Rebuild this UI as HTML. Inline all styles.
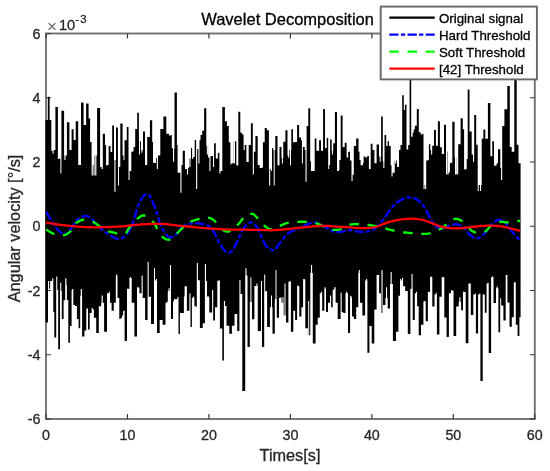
<!DOCTYPE html><html><head><meta charset="utf-8"><style>html,body{margin:0;padding:0;background:#fff;overflow:hidden}svg{display:block;filter:blur(0.4px)}</style></head><body><svg width="550" height="471" viewBox="0 0 550 471">
<rect width="550" height="471" fill="#fff"/>
<rect x="46.0" y="33.5" width="488.79999999999995" height="385.5" fill="none" stroke="#727272" stroke-width="1.9"/>
<path d="M46.00,419.00v-5M46.00,33.50v5M127.47,419.00v-5M127.47,33.50v5M208.93,419.00v-5M208.93,33.50v5M290.40,419.00v-5M290.40,33.50v5M371.87,419.00v-5M371.87,33.50v5M453.33,419.00v-5M453.33,33.50v5M534.80,419.00v-5M534.80,33.50v5M46.00,419.00h5M534.80,419.00h-5M46.00,354.75h5M534.80,354.75h-5M46.00,290.50h5M534.80,290.50h-5M46.00,226.25h5M534.80,226.25h-5M46.00,162.00h5M534.80,162.00h-5M46.00,97.75h5M534.80,97.75h-5M46.00,33.50h5M534.80,33.50h-5" stroke="#3a3a3a" stroke-width="1.2" fill="none"/>
<path d="M45.4,120.0V120.0H47.8V96.8H49.6V120.0H51.3V150.8H52.6V153.6H53.7V150.0H55.4V107.0H57.9V159.0H59.1V158.5H60.4V173.6H61.4V110.8H64.1V155.6H64.4V160.0H65.5V155.6H66.9V122.2H69.4V150.0H71.6V129.3H73.6V140.0H75.7V121.3H78.2V165.0H81.0V102.6H83.6V125.0H86.1V103.5H88.6V118.4H90.1V142.0H91.6V175.5H92.8V165.0H93.5V175.5H94.6V155.6H95.2V175.5H96.4V155.6H97.1V107.9H100.1V167.0H101.6V169.0H102.8V133.7H105.0V145.0H106.1V165.5H107.3V165.0H108.6V146.0H110.5V152.0H112.2V125.5H114.0V160.0H114.4V191.8H115.5V160.0H116.0V127.4H117.9V167.0H118.0V185.5H119.0V167.0H120.3V123.5H122.6V155.6H123.5V160.0H124.5V140.3H126.8V127.0H128.5V180.0H129.6V171.0H131.3V151.8H133.1V151.0H133.6V147.0H135.2V129.0H137.2V112.7H138.9V141.3H139.0V154.5H140.0V141.3H140.9V150.0H141.3V152.7H142.4V150.0H143.0V131.4H145.0V165.0H147.2V137.0H149.9V120.3H152.2V142.0H153.0V162.7H154.0V163.0H156.0V158.0H156.8V169.0H157.9V158.0H158.0V155.6H160.3V129.0H163.4V116.5H166.3V133.7H168.9V135.6H170.7V135.0H171.8V148.0H172.8V149.0H173.0V161.8H174.1V149.0H174.5V92.6H176.9V145.0H177.6V172.7H178.5V172.8H180.4V192.7H181.5V165.0H182.7V150.8H184.9V167.0H185.0V169.0H187.0V174.5H188.1V168.0H189.0V158.5H189.4V167.0H190.5V158.5H191.0V148.0H192.1V159.0H193.2V157.0H194.7V140.0H196.1V189.0H197.2V149.0H198.4V163.6H199.5V140.3H200.5V135.0H202.2V130.8H204.1V108.3H206.3V146.0H206.8V154.5H207.9V146.0H208.1V157.5H209.4V171.0H210.5V156.0H213.0V167.0H214.1V143.2H215.8V158.5H217.8V152.7H219.4V173.6H220.5V170.9H222.3V107.0H224.9V121.3H226.9V126.0H228.8V142.3H230.4V164.5H231.4V163.2H233.7V141.3H233.9V163.6H235.0V141.3H236.3V165.2H236.4V165.5H237.9V165.2H238.3V111.7H240.3V132.7H242.1V134.6H243.6V150.0H244.7V145.1H246.4V162.0H248.7V145.0H250.9V123.2H252.8V174.5H253.9V151.8H255.4V136.1H257.7V165.0H259.7V168.0H262.4V167.3H262.9V142.3H264.7V128.0H266.8V130.2H268.9V169.0H269.1V185.5H270.2V169.0H271.0V171.0H272.0V148.0H273.1V150.0H273.7V185.5H274.7V150.0H275.3V136.1H277.5V165.0H278.2V165.5H279.2V165.0H279.5V147.0H281.5V158.0H281.9V163.6H282.9V158.0H283.3V141.7H285.4V130.2H287.5V155.6H288.2V158.0H289.2V155.6H289.4V150.0H290.0V165.5H291.0V150.0H291.3V129.3H293.0V142.3H294.9V142.0H297.1V125.0H299.1V137.5H301.0V140.3H301.9V163.6H302.9V147.0H304.7V150.0H305.5V181.8H306.6V126.0H308.3V108.3H310.2V161.3H311.0V171.0H312.1V170.9H313.7V171.0H314.7V138.4H316.4V151.0H317.4V150.8H319.1V140.3H321.0V150.8H323.1V108.9H325.0V148.0H326.7V138.0H328.2V169.0H329.2V165.0H330.1V139.4H331.7V150.8H331.9V154.5H332.9V150.8H333.2V143.2H334.9V112.1H337.0V170.9H339.0V170.0H339.4V160.0H340.7V115.5H342.6V147.0H344.7V142.8H346.6V157.5H348.2V151.8H350.0V160.4H351.5V181.0H352.6V174.7H353.8V146.0H356.1V138.4H358.5V151.8H359.5V160.0H360.6V165.2H363.0V163.0H363.6V156.6H365.3V157.5H367.2V156.0H368.9V169.0H370.7V143.8H372.5V149.9H374.4V163.2H376.6V144.5H379.0V156.6H379.7V161.8H380.7V156.6H381.1V116.5H382.8V161.3H383.3V168.0H384.4V161.3H384.5V135.0H386.2V146.0H387.6V141.3H389.0V146.0H390.7V165.2H391.5V176.4H392.6V172.8H394.7V160.4H395.1V163.6H396.2V160.4H397.0V167.0H399.0V150.0H400.5V145.0H402.2V95.3H403.8V110.0H404.9V104.8H406.5V149.4H408.2V145.0H409.6V70.0H411.2V136.8H412.7V132.5H413.7V129.3H414.9V125.8H416.8V109.0H418.8V132.3H420.6V134.5H422.3V133.8H423.5V189.0H424.6V185.0H425.1V189.0H426.2V160.6H428.2V160.0H428.9V144.2H430.3V150.1H431.1V154.5H432.2V145.7H434.0V130.0H435.9V145.7H437.9V121.2H439.9V147.2H441.8V153.9H444.0V124.7H446.0V174.5H447.1V151.6H447.5V174.5H448.6V172.5H449.9V163.6H450.4V162.8H452.3V121.8H454.6V157.6H455.0V174.5H456.1V157.6H456.3V174.0H456.5V174.5H457.6V174.0H458.2V144.2H460.6V118.3H462.8V129.3H464.1V169.0H464.4V169.5H466.0V169.0H466.7V159.0H467.7V89.6H469.5V131.6H471.7V154.6H473.0V161.8H474.1V154.6H474.2V115.0H476.2V144.7H477.7V191.0H478.7V185.0H480.0V191.0H481.1V185.0H481.7V138.8H483.4V129.5H485.3V138.8H487.9V103.1H490.4V156.3H492.3V141.2H494.0V165.7H495.7V165.5H496.7V163.3H498.0V149.3H500.3V168.0H501.1V180.0H502.2V126.0H504.4V109.2H507.3V85.9H509.8V147.0H511.7V151.7H514.3V79.8H516.7V144.7H518.5V163.3H520.6V317.2H519.4V335.9H517.6V324.7H515.8V283.0H515.6V282.3H513.8V317.2H511.8V326.8H509.5V302.4H507.4V275.0H505.7V320.4H503.4V305.4H501.2V298.2H500.2V332.2H498.4V288.3H497.7V286.4H496.6V288.3H496.0V302.9H493.5V277.3H493.1V276.4H492.0V277.3H491.1V352.9H488.7V283.4H488.6V282.7H487.5V283.4H486.6V312.7H484.8V294.4H482.7V381.0H480.4V293.6H479.3V294.4H478.1V333.4H475.9V293.6H474.8V294.4H473.3V315.1H470.8V283.4H468.4V343.2H465.7V292.0H464.1V291.8H463.0V310.2H461.1V301.7H460.4V297.3H459.3V301.7H458.7V306.6H456.2V335.9H453.5V290.7H452.2V290.0H451.1V293.2H448.9V337.0H446.6V317.6H444.3V277.3H442.7V277.0H441.7V296.8H439.4V334.6H436.9V294.4H436.7V292.7H435.7V294.4H434.5V306.6H432.3V277.3H432.2V277.0H431.6V276.4H430.5V277.3H430.1V292.0H429.6V291.8H428.5V292.0H427.9V321.3H425.7V301.5H425.2V301.0H424.2V301.5H423.4V324.8H421.0V335.3H418.7V306.2H417.1V291.8H416.0V293.3H414.8V320.1H412.7V288.7H412.6V274.0H411.5V288.7H410.4V334.1H407.8V291.0H405.2V286.3H403.1V278.0H402.0V280.5H401.1V279.0H400.0V295.7H398.4V331.8H396.0V341.1H392.9V284.0H391.7V272.0H390.6V284.0H390.0V308.5H387.7V298.0H387.1V287.3H386.0V298.0H385.4V305.0H383.0V313.1H382.6V270.0H381.5V313.1H381.0V293.3H379.1V275.0H376.6V309.6H374.3V343.5H371.7V326.0H369.4V352.8H367.4V280.5H367.1V279.0H366.0V280.5H365.1V315.5H362.4V302.7H360.0V273.0H359.9V270.0H358.8V273.0H358.3V307.3H356.2V319.0H353.9V316.6H352.0V298.0H351.7V296.4H351.1V295.7H350.1V333.0H348.0V293.3H347.1V291.8H346.0V293.3H345.5V313.1H343.2V312.0H341.7V292.7H340.6V319.0H337.7V302.7H335.6V287.3H334.2V289.8H332.7V307.3H331.1V295.5H330.0V302.7H328.0V312.0H326.0V288.7H325.6V287.3H324.5V288.7H324.3V310.8H322.2V293.3H322.1V291.8H321.0V293.3H319.8V317.8H317.7V324.8H315.6V343.5H312.8V273.0H312.1V265.0H311.0V273.0H310.3V335.3H309.2V301.0H308.2V335.3H307.9V328.3H305.3V279.3H304.2V279.0H303.1V307.3H301.4V316.6H299.3V286.3H298.4V285.5H297.3V286.3H297.1V320.1H295.1V310.8H293.3V331.8H290.9V281.7H290.5V281.0H289.5V281.7H288.4V322.5H286.0V315.5H285.5V283.6H284.5V315.5H283.7V302.7H283.5V297.3H282.5V302.7H281.5V297.3H280.5V298.0H279.0V317.8H276.8V299.2H276.5V270.0H275.5V299.2H274.8V333.8H272.5V307.2H272.0V295.5H271.0V307.2H269.9V327.1H267.1V291.3H265.2V274.5H264.2V347.1H262.0V281.0H261.0V331.1H257.8V286.0H257.4V283.6H256.4V286.0H254.4V319.2H252.0V301.9H251.4V277.3H250.4V301.9H249.8V347.1H247.5V275.5H246.5V268.2H245.4V276.0H245.2V391.0H242.3V293.9H240.5V280.0H239.4V331.1H237.2V313.9H234.5V325.8H231.9V333.8H229.3V325.8H226.5V305.9H225.0V301.0H223.9V360.4H222.3V328.5H219.9V281.0H219.5V280.0H218.4V281.0H217.3V307.2H215.0V320.5H213.2V290.0H212.1V312.5H209.3V296.6H207.1V295.5H207.0V281.0H206.0V264.0H204.9V323.2H202.7V328.0H199.9V280.5H199.1V280.0H198.0V280.5H197.9V263.0H196.8V307.2H196.3V306.2H194.4V298.0H194.1V296.4H193.0V298.0H191.9V327.1H190.5V293.6H189.4V310.8H186.9V286.3H184.6V296.4H183.9V313.1H179.9V334.1H178.5V297.0H177.4V299.2H175.0V299.0H173.9V301.5H173.0V319.0H171.0V265.0H170.0V291.0H169.6V288.2H168.5V291.0H167.8V301.8H166.8V302.7H165.5V324.8H162.6V320.1H159.7V333.0H157.0V279.0H155.9V280.5H155.0V268.0H154.0V324.1H151.0V296.8H148.7V262.0H147.6V320.1H145.1V298.0H142.7V275.5H141.6V293.3H139.4V287.5H138.1V287.3H137.0V336.5H134.4V302.7H131.7V278.0H131.0V277.3H129.9V278.0H129.4V288.7H127.0V341.1H124.6V310.8H123.1V315.5H122.0V317.8H120.8V319.0H119.3V298.0H117.5V276.0H117.3V274.5H116.1V276.0H115.8V302.7H113.8V310.8H111.6V302.7H110.0V291.8H109.0V293.3H107.0V331.8H104.1V302.7H102.8V295.5H101.6V302.7H101.1V306.2H98.8V333.0H96.2V317.8H93.9V309.6H92.8V308.0H91.6V313.1H89.7V329.5H88.0V308.5H86.3V330.6H84.4V336.5H82.1V295.7H81.9V289.0H80.7V295.7H80.2V328.3H78.6V319.0H76.9V306.0H75.0V305.0H73.3V289.0H72.1V290.0H71.6V326.0H69.9V342.8H68.3V300.0H66.9V285.0H66.4V278.2H65.2V300.3H63.6V319.0H61.8V291.0H61.3V282.7H60.2V291.0H60.0V349.3H58.2V290.0H57.3V276.4H56.2V337.6H54.3V312.0H53.3V278.2H52.2V281.0H50.1V288.7H49.1V281.0H48.0V322.5H45.4Z" fill="#000"/>
<path d="M46.20,211.90 46.66,212.69 47.29,213.77 48.03,215.05 48.85,216.44 49.69,217.86 50.50,219.20 51.29,220.52 52.11,221.90 52.95,223.29 53.81,224.67 54.69,225.99 55.60,227.20 56.57,228.34 57.60,229.46 58.66,230.51 59.70,231.47 60.66,232.31 61.50,233.00 62.17,233.58 62.69,234.09 63.14,234.48 63.59,234.71 64.12,234.73 64.80,234.50 65.65,233.98 66.61,233.19 67.64,232.19 68.73,231.05 69.82,229.83 70.90,228.60 71.95,227.26 73.01,225.74 74.08,224.14 75.18,222.56 76.31,221.12 77.50,219.90 78.77,218.86 80.12,217.91 81.51,217.09 82.89,216.44 84.24,216.00 85.50,215.80 86.66,215.88 87.75,216.21 88.79,216.74 89.83,217.45 90.89,218.28 92.00,219.20 93.17,220.29 94.38,221.61 95.61,223.05 96.84,224.53 98.08,225.94 99.30,227.20 100.50,228.31 101.70,229.35 102.90,230.32 104.10,231.25 105.30,232.14 106.50,233.00 107.73,233.85 108.98,234.68 110.24,235.48 111.47,236.21 112.67,236.86 113.80,237.40 114.85,237.86 115.83,238.27 116.77,238.60 117.69,238.81 118.63,238.89 119.60,238.80 120.62,238.54 121.68,238.13 122.74,237.59 123.80,236.91 124.83,236.11 125.80,235.20 126.73,234.14 127.64,232.91 128.51,231.57 129.35,230.14 130.15,228.67 130.90,227.20 131.59,225.74 132.21,224.25 132.79,222.72 133.35,221.13 133.91,219.46 134.50,217.70 135.10,215.76 135.70,213.65 136.31,211.46 136.92,209.29 137.55,207.23 138.20,205.40 138.89,203.76 139.61,202.23 140.35,200.81 141.09,199.53 141.81,198.39 142.50,197.40 143.15,196.57 143.78,195.90 144.39,195.36 145.00,194.96 145.60,194.68 146.20,194.50 146.80,194.41 147.40,194.40 148.00,194.52 148.60,194.79 149.20,195.23 149.80,195.90 150.41,196.83 151.03,198.00 151.65,199.35 152.27,200.83 152.89,202.36 153.50,203.90 154.11,205.46 154.71,207.11 155.31,208.82 155.90,210.57 156.50,212.33 157.10,214.10 157.69,215.91 158.27,217.79 158.85,219.69 159.44,221.56 160.05,223.34 160.70,225.00 161.39,226.54 162.11,228.01 162.85,229.41 163.60,230.71 164.36,231.91 165.10,233.00 165.82,234.02 166.51,234.98 167.21,235.84 167.93,236.56 168.69,237.09 169.50,237.40 170.39,237.47 171.33,237.34 172.31,237.03 173.31,236.56 174.32,235.94 175.30,235.20 176.27,234.24 177.23,233.01 178.20,231.64 179.17,230.25 180.13,228.96 181.10,227.90 182.05,227.06 182.98,226.34 183.91,225.72 184.86,225.19 185.85,224.72 186.90,224.30 188.05,223.94 189.28,223.66 190.55,223.44 191.82,223.29 193.05,223.17 194.20,223.10 195.27,223.08 196.29,223.13 197.26,223.22 198.20,223.34 199.11,223.47 200.00,223.60 200.83,223.70 201.61,223.80 202.35,223.90 203.09,224.04 203.87,224.23 204.70,224.50 205.62,224.83 206.60,225.19 207.62,225.60 208.63,226.09 209.60,226.69 210.50,227.40 211.31,228.25 212.07,229.22 212.79,230.29 213.49,231.44 214.18,232.65 214.90,233.90 215.63,235.25 216.37,236.71 217.11,238.24 217.84,239.77 218.57,241.25 219.30,242.60 220.02,243.86 220.74,245.08 221.45,246.24 222.16,247.32 222.88,248.32 223.60,249.20 224.33,250.00 225.06,250.74 225.79,251.38 226.53,251.91 227.27,252.29 228.00,252.50 228.73,252.55 229.47,252.48 230.21,252.26 230.94,251.88 231.67,251.33 232.40,250.60 233.12,249.64 233.84,248.44 234.55,247.07 235.26,245.60 235.98,244.08 236.70,242.60 237.43,241.09 238.16,239.49 238.89,237.86 239.63,236.23 240.37,234.66 241.10,233.20 241.82,231.82 242.51,230.47 243.21,229.19 243.93,227.98 244.69,226.88 245.50,225.90 246.39,224.99 247.33,224.10 248.31,223.33 249.31,222.72 250.32,222.35 251.30,222.30 252.28,222.60 253.29,223.20 254.29,224.04 255.27,225.06 256.21,226.20 257.10,227.40 257.92,228.73 258.67,230.24 259.39,231.88 260.09,233.56 260.79,235.22 261.50,236.80 262.22,238.35 262.94,239.94 263.65,241.51 264.36,243.00 265.08,244.35 265.80,245.50 266.53,246.44 267.26,247.21 268.00,247.85 268.74,248.37 269.47,248.81 270.20,249.20 270.93,249.54 271.68,249.83 272.42,250.03 273.14,250.13 273.84,250.09 274.50,249.90 275.10,249.53 275.63,248.98 276.14,248.31 276.66,247.54 277.20,246.73 277.80,245.90 278.45,245.05 279.13,244.13 279.84,243.16 280.59,242.16 281.37,241.13 282.20,240.10 283.07,239.01 283.97,237.85 284.92,236.66 285.90,235.51 286.93,234.44 288.00,233.50 289.11,232.73 290.27,232.10 291.47,231.54 292.71,231.03 293.98,230.49 295.30,229.90 296.69,229.23 298.15,228.53 299.65,227.81 301.15,227.10 302.61,226.42 304.00,225.80 305.32,225.21 306.59,224.64 307.83,224.09 309.03,223.61 310.19,223.20 311.30,222.90 312.35,222.70 313.34,222.59 314.29,222.56 315.22,222.60 316.15,222.72 317.10,222.90 318.05,223.16 318.98,223.51 319.91,223.93 320.86,224.40 321.85,224.93 322.90,225.50 324.05,226.15 325.28,226.91 326.55,227.72 327.82,228.53 329.05,229.27 330.20,229.90 331.22,230.43 332.14,230.91 333.01,231.34 333.91,231.69 334.88,231.94 336.00,232.10 337.32,232.12 338.81,232.01 340.38,231.81 341.94,231.56 343.41,231.31 344.70,231.10 345.78,230.89 346.72,230.65 347.56,230.41 348.36,230.19 349.16,230.05 350.00,230.00 350.84,230.09 351.64,230.29 352.44,230.55 353.28,230.84 354.22,231.10 355.30,231.30 356.57,231.45 358.00,231.60 359.52,231.72 361.08,231.80 362.59,231.84 364.00,231.80 365.32,231.71 366.59,231.57 367.83,231.38 369.03,231.12 370.19,230.80 371.30,230.40 372.35,229.93 373.34,229.39 374.29,228.78 375.22,228.09 376.15,227.34 377.10,226.50 378.07,225.57 379.03,224.55 380.00,223.46 380.97,222.30 381.93,221.11 382.90,219.90 383.85,218.66 384.78,217.36 385.71,216.03 386.66,214.67 387.65,213.29 388.70,211.90 389.83,210.44 391.02,208.89 392.26,207.32 393.51,205.81 394.77,204.41 396.00,203.20 397.23,202.18 398.49,201.30 399.74,200.54 400.98,199.89 402.17,199.31 403.30,198.80 404.35,198.37 405.34,198.02 406.29,197.76 407.22,197.58 408.15,197.46 409.10,197.40 410.07,197.39 411.03,197.44 412.00,197.56 412.97,197.75 413.93,198.03 414.90,198.40 415.88,198.88 416.89,199.47 417.89,200.15 418.87,200.89 419.81,201.68 420.70,202.50 421.53,203.36 422.31,204.27 423.05,205.24 423.76,206.24 424.44,207.26 425.10,208.30 425.71,209.34 426.25,210.39 426.76,211.46 427.29,212.58 427.85,213.75 428.50,215.00 429.23,216.40 430.03,217.94 430.86,219.55 431.73,221.12 432.61,222.57 433.50,223.80 434.40,224.83 435.32,225.75 436.26,226.54 437.20,227.20 438.15,227.72 439.10,228.10 440.04,228.30 440.99,228.33 441.94,228.22 442.90,228.01 443.85,227.76 444.80,227.50 445.74,227.19 446.67,226.77 447.59,226.31 448.53,225.85 449.50,225.43 450.50,225.10 451.55,224.83 452.63,224.57 453.74,224.35 454.87,224.21 455.99,224.18 457.10,224.30 458.21,224.56 459.33,224.94 460.46,225.43 461.57,226.03 462.65,226.72 463.70,227.50 464.70,228.45 465.67,229.58 466.61,230.81 467.53,232.05 468.46,233.21 469.40,234.20 470.35,235.06 471.30,235.86 472.26,236.58 473.21,237.20 474.16,237.68 475.10,238.00 476.04,238.17 476.97,238.20 477.90,238.09 478.83,237.86 479.76,237.49 480.70,237.00 481.64,236.34 482.59,235.51 483.54,234.56 484.50,233.51 485.45,232.41 486.40,231.30 487.34,230.11 488.27,228.80 489.19,227.43 490.13,226.09 491.10,224.86 492.10,223.80 493.15,222.88 494.23,222.01 495.34,221.26 496.47,220.64 497.59,220.21 498.70,220.00 499.81,220.03 500.93,220.27 502.06,220.69 503.17,221.27 504.25,221.98 505.30,222.80 506.28,223.78 507.20,224.94 508.09,226.24 508.99,227.62 509.95,229.03 511.00,230.40 512.23,231.84 513.61,233.42 515.05,235.03 516.43,236.54 517.65,237.87 518.60,238.90 519.24,239.58 519.67,240.00 519.92,240.23 520.08,240.34 520.18,240.41 520.30,240.50" fill="none" stroke="#0000ff" stroke-width="2.3" stroke-dasharray="9.3,2.3,4.3,2.3"/>
<path d="M46.20,229.40 46.96,229.90 47.99,230.62 49.22,231.46 50.59,232.31 52.04,233.10 53.50,233.70 55.06,234.17 56.79,234.60 58.59,234.95 60.39,235.19 62.09,235.28 63.60,235.20 64.93,234.92 66.14,234.48 67.26,233.89 68.30,233.19 69.27,232.38 70.20,231.50 71.01,230.47 71.67,229.26 72.26,227.94 72.88,226.62 73.60,225.38 74.50,224.30 75.62,223.35 76.89,222.44 78.27,221.61 79.70,220.89 81.12,220.31 82.50,219.90 83.84,219.68 85.19,219.62 86.54,219.70 87.89,219.90 89.21,220.21 90.50,220.60 91.76,221.11 92.99,221.77 94.20,222.53 95.40,223.34 96.60,224.18 97.80,225.00 98.97,225.83 100.09,226.73 101.21,227.64 102.37,228.54 103.62,229.37 105.00,230.10 106.60,230.73 108.41,231.29 110.31,231.79 112.17,232.24 113.87,232.64 115.30,233.00 116.39,233.33 117.24,233.61 117.93,233.86 118.56,234.04 119.22,234.16 120.00,234.20 120.94,234.18 121.96,234.10 123.01,233.95 124.04,233.73 124.99,233.41 125.80,233.00 126.42,232.48 126.87,231.87 127.25,231.17 127.63,230.39 128.08,229.53 128.70,228.60 129.52,227.52 130.47,226.28 131.51,224.96 132.56,223.64 133.58,222.43 134.50,221.40 135.32,220.56 136.10,219.85 136.84,219.24 137.54,218.69 138.23,218.19 138.90,217.70 139.54,217.21 140.13,216.74 140.69,216.31 141.26,215.94 141.86,215.66 142.50,215.50 143.19,215.45 143.91,215.48 144.66,215.61 145.43,215.82 146.21,216.12 147.00,216.50 147.82,216.99 148.68,217.60 149.56,218.29 150.42,219.04 151.24,219.82 152.00,220.60 152.66,221.35 153.25,222.09 153.79,222.86 154.34,223.69 154.93,224.62 155.60,225.70 156.37,227.00 157.21,228.53 158.10,230.15 159.00,231.76 159.87,233.25 160.70,234.50 161.47,235.52 162.20,236.40 162.91,237.16 163.62,237.80 164.35,238.34 165.10,238.80 165.88,239.18 166.68,239.49 167.49,239.69 168.32,239.77 169.15,239.71 170.00,239.50 170.87,239.07 171.77,238.44 172.69,237.67 173.59,236.83 174.47,235.98 175.30,235.20 176.06,234.49 176.75,233.79 177.41,233.09 178.09,232.37 178.80,231.62 179.60,230.80 180.49,229.89 181.45,228.89 182.46,227.85 183.48,226.82 184.50,225.86 185.50,225.00 186.49,224.25 187.50,223.56 188.50,222.93 189.48,222.36 190.42,221.85 191.30,221.40 192.10,221.02 192.84,220.73 193.54,220.49 194.21,220.29 194.89,220.10 195.60,219.90 196.29,219.69 196.94,219.50 197.59,219.32 198.29,219.15 199.08,218.98 200.00,218.80 201.10,218.58 202.36,218.31 203.71,218.04 205.07,217.82 206.39,217.69 207.60,217.70 208.67,217.81 209.64,217.97 210.57,218.23 211.50,218.61 212.46,219.16 213.50,219.90 214.65,220.95 215.88,222.30 217.15,223.81 218.41,225.34 219.61,226.75 220.70,227.90 221.67,228.81 222.55,229.60 223.37,230.26 224.17,230.80 224.97,231.22 225.80,231.50 226.64,231.66 227.45,231.70 228.27,231.61 229.11,231.39 230.02,231.02 231.00,230.50 232.08,229.80 233.25,228.91 234.47,227.89 235.72,226.75 236.97,225.54 238.20,224.30 239.45,222.90 240.74,221.29 242.03,219.60 243.29,217.98 244.46,216.57 245.50,215.50 246.39,214.81 247.15,214.41 247.83,214.21 248.47,214.14 249.11,214.13 249.80,214.10 250.49,214.01 251.15,213.91 251.81,213.86 252.51,213.95 253.30,214.24 254.20,214.80 255.27,215.74 256.47,217.03 257.76,218.53 259.07,220.08 260.34,221.55 261.50,222.80 262.57,223.86 263.59,224.84 264.56,225.75 265.50,226.57 266.41,227.29 267.30,227.90 268.15,228.40 268.96,228.80 269.74,229.10 270.50,229.31 271.25,229.44 272.00,229.50 272.73,229.48 273.44,229.36 274.13,229.16 274.84,228.90 275.59,228.57 276.40,228.20 277.27,227.74 278.19,227.18 279.15,226.56 280.14,225.93 281.16,225.33 282.20,224.80 283.27,224.33 284.36,223.89 285.48,223.47 286.63,223.10 287.80,222.77 289.00,222.50 290.24,222.30 291.51,222.16 292.82,222.06 294.13,222.00 295.43,221.95 296.70,221.90 297.92,221.84 299.11,221.80 300.29,221.76 301.48,221.75 302.71,221.76 304.00,221.80 305.40,221.87 306.90,221.97 308.44,222.10 309.96,222.25 311.40,222.42 312.70,222.60 313.80,222.78 314.74,222.95 315.59,223.14 316.45,223.38 317.39,223.69 318.50,224.10 319.81,224.66 321.27,225.36 322.81,226.14 324.37,226.91 325.89,227.63 327.30,228.20 328.60,228.65 329.84,229.04 331.04,229.36 332.21,229.61 333.36,229.79 334.50,229.90 335.62,229.93 336.71,229.89 337.79,229.78 338.85,229.59 339.92,229.33 341.00,229.00 342.12,228.54 343.26,227.94 344.41,227.27 345.53,226.59 346.60,225.98 347.60,225.50 348.48,225.15 349.24,224.89 349.96,224.68 350.69,224.53 351.48,224.40 352.40,224.30 353.44,224.22 354.56,224.19 355.75,224.18 356.99,224.20 358.28,224.25 359.60,224.30 360.98,224.37 362.42,224.45 363.91,224.56 365.41,224.68 366.92,224.83 368.40,225.00 369.86,225.20 371.31,225.42 372.76,225.66 374.20,225.93 375.65,226.21 377.10,226.50 378.55,226.81 380.00,227.15 381.45,227.51 382.90,227.87 384.35,228.24 385.80,228.60 387.25,228.97 388.70,229.35 390.14,229.74 391.59,230.11 393.04,230.47 394.50,230.80 395.94,231.10 397.37,231.37 398.81,231.63 400.26,231.86 401.75,232.09 403.30,232.30 404.92,232.50 406.60,232.69 408.32,232.86 410.06,233.01 411.79,233.16 413.50,233.30 415.24,233.43 417.05,233.57 418.85,233.69 420.59,233.79 422.19,233.86 423.60,233.90 424.76,233.91 425.71,233.91 426.54,233.88 427.31,233.80 428.10,233.68 429.00,233.50 429.98,233.26 430.99,232.96 432.01,232.61 433.07,232.22 434.16,231.78 435.30,231.30 436.51,230.78 437.81,230.22 439.14,229.61 440.46,228.96 441.73,228.26 442.90,227.50 443.96,226.64 444.94,225.67 445.87,224.64 446.77,223.63 447.67,222.70 448.60,221.90 449.56,221.22 450.52,220.60 451.48,220.05 452.44,219.59 453.38,219.24 454.30,219.00 455.19,218.88 456.04,218.87 456.88,218.97 457.72,219.16 458.59,219.44 459.50,219.80 460.47,220.25 461.48,220.80 462.52,221.44 463.56,222.16 464.60,222.95 465.60,223.80 466.55,224.79 467.46,225.95 468.36,227.18 469.28,228.39 470.25,229.49 471.30,230.40 472.46,231.14 473.70,231.79 474.99,232.33 476.29,232.76 477.58,233.05 478.80,233.20 479.96,233.21 481.10,233.09 482.21,232.84 483.30,232.46 484.40,231.94 485.50,231.30 486.60,230.43 487.67,229.31 488.75,228.06 489.84,226.79 490.95,225.63 492.10,224.70 493.31,223.98 494.57,223.37 495.86,222.86 497.15,222.46 498.40,222.14 499.60,221.90 500.72,221.79 501.80,221.83 502.84,221.95 503.87,222.11 504.92,222.24 506.00,222.30 507.13,222.29 508.31,222.25 509.49,222.19 510.67,222.11 511.81,222.01 512.90,221.90 513.97,221.76 515.04,221.58 516.07,221.38 517.04,221.19 517.90,221.02 518.60,220.90 519.13,220.83 519.53,220.80 519.81,220.79 520.01,220.79 520.16,220.80 520.30,220.80" fill="none" stroke="#00ff00" stroke-width="2.3" stroke-dasharray="9.5,8.7"/>
<path d="M46.20,222.50 47.51,222.73 49.30,223.06 51.44,223.45 53.77,223.86 56.17,224.25 58.50,224.60 60.80,224.90 63.20,225.19 65.66,225.47 68.16,225.73 70.65,225.97 73.10,226.20 75.52,226.41 77.94,226.61 80.35,226.80 82.76,226.96 85.18,227.10 87.60,227.20 89.99,227.27 92.34,227.30 94.69,227.31 97.09,227.29 99.58,227.25 102.20,227.20 105.02,227.13 108.02,227.05 111.11,226.94 114.19,226.82 117.19,226.67 120.00,226.50 122.61,226.29 125.07,226.04 127.45,225.77 129.78,225.49 132.12,225.23 134.50,225.00 136.93,224.79 139.36,224.59 141.80,224.41 144.24,224.24 146.67,224.10 149.10,224.00 151.52,223.92 153.94,223.86 156.35,223.83 158.76,223.84 161.18,223.89 163.60,224.00 166.08,224.20 168.62,224.47 171.17,224.80 173.66,225.14 176.02,225.45 178.20,225.70 180.14,225.88 181.87,226.01 183.49,226.12 185.06,226.23 186.67,226.35 188.40,226.50 190.27,226.69 192.20,226.91 194.18,227.15 196.16,227.39 198.11,227.61 200.00,227.80 201.77,227.96 203.43,228.10 205.06,228.23 206.74,228.35 208.53,228.47 210.50,228.60 212.70,228.74 215.07,228.89 217.55,229.04 220.09,229.18 222.62,229.30 225.10,229.40 227.48,229.47 229.80,229.51 232.11,229.53 234.48,229.55 236.96,229.57 239.60,229.60 242.49,229.64 245.61,229.69 248.83,229.74 252.05,229.80 255.14,229.85 258.00,229.90 260.58,229.97 262.97,230.05 265.24,230.13 267.46,230.20 269.69,230.23 272.00,230.20 274.39,230.11 276.79,229.98 279.21,229.81 281.64,229.62 284.07,229.41 286.50,229.20 288.93,228.98 291.36,228.73 293.80,228.47 296.24,228.21 298.67,227.95 301.10,227.70 303.57,227.45 306.10,227.19 308.62,226.94 311.09,226.70 313.43,226.48 315.60,226.30 317.53,226.15 319.26,226.01 320.88,225.91 322.45,225.83 324.06,225.79 325.80,225.80 327.68,225.87 329.63,226.01 331.63,226.19 333.63,226.38 335.60,226.56 337.50,226.70 339.34,226.80 341.16,226.89 342.94,226.96 344.68,227.03 346.37,227.11 348.00,227.20 349.52,227.31 350.92,227.44 352.28,227.58 353.64,227.71 355.10,227.82 356.70,227.90 358.51,227.96 360.49,228.00 362.55,228.03 364.61,228.03 366.59,227.99 368.40,227.90 370.02,227.77 371.52,227.61 372.94,227.41 374.31,227.17 375.68,226.87 377.10,226.50 378.55,226.04 380.00,225.48 381.45,224.87 382.90,224.24 384.35,223.64 385.80,223.10 387.25,222.62 388.70,222.16 390.14,221.72 391.59,221.32 393.04,220.94 394.50,220.60 395.96,220.29 397.43,220.02 398.90,219.78 400.37,219.56 401.84,219.37 403.30,219.20 404.76,219.05 406.21,218.91 407.66,218.81 409.10,218.73 410.55,218.69 412.00,218.70 413.49,218.76 415.03,218.88 416.56,219.03 418.05,219.21 419.45,219.40 420.70,219.60 421.75,219.79 422.64,219.98 423.42,220.18 424.20,220.41 425.03,220.68 426.00,221.00 427.10,221.38 428.27,221.81 429.49,222.29 430.78,222.79 432.11,223.29 433.50,223.80 434.90,224.33 436.31,224.90 437.78,225.48 439.34,226.04 441.03,226.56 442.90,227.00 444.99,227.38 447.28,227.74 449.70,228.04 452.19,228.29 454.68,228.44 457.10,228.50 459.46,228.42 461.80,228.21 464.14,227.92 466.50,227.60 468.88,227.27 471.30,227.00 473.79,226.75 476.34,226.49 478.91,226.22 481.47,225.99 483.98,225.81 486.40,225.70 488.73,225.66 491.01,225.67 493.23,225.72 495.40,225.83 497.53,225.99 499.60,226.20 501.63,226.48 503.61,226.83 505.54,227.24 507.42,227.67 509.24,228.10 511.00,228.50 512.78,228.91 514.60,229.35 516.36,229.79 517.97,230.20 519.31,230.55 520.30,230.80" fill="none" stroke="#ff0000" stroke-width="2.3"/>
<text x="46.00" y="439.5" font-family="'Liberation Sans', Arial, sans-serif" stroke-width="0.3" paint-order="stroke" font-size="14.3" fill="#262626" stroke="#262626" text-anchor="middle">0</text>
<text x="127.47" y="439.5" font-family="'Liberation Sans', Arial, sans-serif" stroke-width="0.3" paint-order="stroke" font-size="14.3" fill="#262626" stroke="#262626" text-anchor="middle">10</text>
<text x="208.93" y="439.5" font-family="'Liberation Sans', Arial, sans-serif" stroke-width="0.3" paint-order="stroke" font-size="14.3" fill="#262626" stroke="#262626" text-anchor="middle">20</text>
<text x="290.40" y="439.5" font-family="'Liberation Sans', Arial, sans-serif" stroke-width="0.3" paint-order="stroke" font-size="14.3" fill="#262626" stroke="#262626" text-anchor="middle">30</text>
<text x="371.87" y="439.5" font-family="'Liberation Sans', Arial, sans-serif" stroke-width="0.3" paint-order="stroke" font-size="14.3" fill="#262626" stroke="#262626" text-anchor="middle">40</text>
<text x="453.33" y="439.5" font-family="'Liberation Sans', Arial, sans-serif" stroke-width="0.3" paint-order="stroke" font-size="14.3" fill="#262626" stroke="#262626" text-anchor="middle">50</text>
<text x="534.80" y="439.5" font-family="'Liberation Sans', Arial, sans-serif" stroke-width="0.3" paint-order="stroke" font-size="14.3" fill="#262626" stroke="#262626" text-anchor="middle">60</text>
<text x="40.5" y="424.10" font-family="'Liberation Sans', Arial, sans-serif" stroke-width="0.3" paint-order="stroke" font-size="14.3" fill="#262626" stroke="#262626" text-anchor="end">-6</text>
<text x="40.5" y="359.85" font-family="'Liberation Sans', Arial, sans-serif" stroke-width="0.3" paint-order="stroke" font-size="14.3" fill="#262626" stroke="#262626" text-anchor="end">-4</text>
<text x="40.5" y="295.60" font-family="'Liberation Sans', Arial, sans-serif" stroke-width="0.3" paint-order="stroke" font-size="14.3" fill="#262626" stroke="#262626" text-anchor="end">-2</text>
<text x="40.5" y="231.35" font-family="'Liberation Sans', Arial, sans-serif" stroke-width="0.3" paint-order="stroke" font-size="14.3" fill="#262626" stroke="#262626" text-anchor="end">0</text>
<text x="40.5" y="167.10" font-family="'Liberation Sans', Arial, sans-serif" stroke-width="0.3" paint-order="stroke" font-size="14.3" fill="#262626" stroke="#262626" text-anchor="end">2</text>
<text x="40.5" y="102.85" font-family="'Liberation Sans', Arial, sans-serif" stroke-width="0.3" paint-order="stroke" font-size="14.3" fill="#262626" stroke="#262626" text-anchor="end">4</text>
<text x="40.5" y="38.60" font-family="'Liberation Sans', Arial, sans-serif" stroke-width="0.3" paint-order="stroke" font-size="14.3" fill="#262626" stroke="#262626" text-anchor="end">6</text>
<text x="47.0" y="32.0" font-family="Liberation Sans, Arial, sans-serif" font-size="17.2" stroke-width="0" fill="#666" stroke="#666">×</text>
<text x="58.9" y="29.8" font-family="'Liberation Sans', Arial, sans-serif" stroke-width="0.3" paint-order="stroke" font-size="14.6" fill="#262626" stroke="#262626">10</text>
<text x="75.2" y="23.3" font-family="'Liberation Sans', Arial, sans-serif" stroke-width="0.3" paint-order="stroke" font-size="11.3" letter-spacing="1.3" fill="#262626" stroke="#262626">-3</text>
<text x="287.6" y="25.1" font-family="'Liberation Sans', Arial, sans-serif" stroke-width="0.3" paint-order="stroke" font-size="16.5" fill="#000" stroke="#000" text-anchor="middle">Wavelet Decomposition</text>
<text x="290" y="461" font-family="'Liberation Sans', Arial, sans-serif" stroke-width="0.3" paint-order="stroke" font-size="16.3" fill="#262626" stroke="#262626" text-anchor="middle">Times[s]</text>
<text transform="translate(19.5,228.5) rotate(-90)" font-family="'Liberation Sans', Arial, sans-serif" stroke-width="0.3" paint-order="stroke" font-size="16.3" fill="#262626" stroke="#262626" text-anchor="middle">Angular velocity [°/s]</text>
<rect x="380.7" y="6.6" width="156.2" height="72.80000000000001" fill="#fff" stroke="#686868" stroke-width="1.9"/>
<path d="M389.3,17.60H434.7" stroke="#000" stroke-width="2.4"/>
<text x="439" y="22.50" font-family="'Liberation Sans', Arial, sans-serif" stroke-width="0.3" paint-order="stroke" font-size="13.3" fill="#000" stroke="#000">Original signal</text>
<path d="M389.3,34.60H434.7" stroke="#0000ff" stroke-width="2.4" stroke-dasharray="9.3,2.3,4.3,2.3"/>
<text x="439" y="39.50" font-family="'Liberation Sans', Arial, sans-serif" stroke-width="0.3" paint-order="stroke" font-size="13.3" fill="#000" stroke="#000">Hard Threshold</text>
<path d="M389.3,51.60H434.7" stroke="#00ff00" stroke-width="2.4" stroke-dasharray="9.5,8.7"/>
<text x="439" y="56.50" font-family="'Liberation Sans', Arial, sans-serif" stroke-width="0.3" paint-order="stroke" font-size="13.3" fill="#000" stroke="#000">Soft Threshold</text>
<path d="M389.3,68.60H434.7" stroke="#ff0000" stroke-width="2.4"/>
<text x="439" y="73.50" font-family="'Liberation Sans', Arial, sans-serif" stroke-width="0.3" paint-order="stroke" font-size="13.3" fill="#000" stroke="#000">[42] Threshold</text>
</svg></body></html>
